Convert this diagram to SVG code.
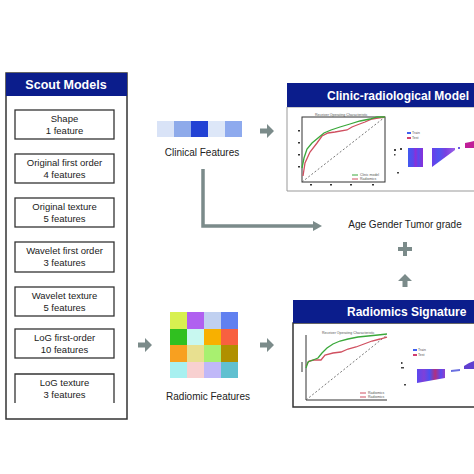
<svg xmlns="http://www.w3.org/2000/svg" width="474" height="474" viewBox="0 0 474 474">
<defs>
<style>
.hdr{fill:#0b1d8c}
.ht{font-family:"Liberation Sans",Arial,sans-serif;font-weight:bold;fill:#fff}
.bx{fill:#fff;stroke:#333;stroke-width:1.3}
.bt{font-family:"Liberation Sans",Arial,sans-serif;font-size:9.5px;fill:#222;text-anchor:middle}
.lbl{font-family:"Liberation Sans",Arial,sans-serif;font-size:10px;fill:#222;text-anchor:middle}
.arr{fill:#7b8b8a}
.ax{fill:none;stroke:#333;stroke-width:1}
.dg{fill:none;stroke:#555;stroke-width:0.8;stroke-dasharray:2,2}
.gr{fill:none;stroke:#3aa83a;stroke-width:1.3}
.rd{fill:none;stroke:#d05060;stroke-width:1.3}
.tiny{font-family:"Liberation Sans",Arial,sans-serif;font-size:3.5px;fill:#555}
</style>
<linearGradient id="stripe1" x1="0" x2="1" y1="0" y2="0">
<stop offset="0" stop-color="#3f5af0"/><stop offset="0.35" stop-color="#5a48ec"/><stop offset="0.5" stop-color="#8a30d8"/><stop offset="0.7" stop-color="#5a48ec"/><stop offset="1" stop-color="#8a30d8"/>
</linearGradient>
<linearGradient id="stripe2" x1="0" x2="1" y1="0" y2="0">
<stop offset="0" stop-color="#6a3ee8"/><stop offset="0.3" stop-color="#4f55f0"/><stop offset="0.6" stop-color="#7a40e0"/><stop offset="1" stop-color="#9a60e8"/>
</linearGradient>
<linearGradient id="stripe3" x1="0" x2="1" y1="0" y2="0">
<stop offset="0" stop-color="#5a48f0"/><stop offset="0.25" stop-color="#8040d8"/><stop offset="0.45" stop-color="#4a50f0"/><stop offset="0.65" stop-color="#b03080"/><stop offset="0.85" stop-color="#5a48f0"/><stop offset="1" stop-color="#9040c8"/>
</linearGradient>
</defs>
<rect width="474" height="474" fill="#fff"/>

<g id="scout-models">
<rect x="6" y="73" width="121" height="346" fill="#fff" stroke="#333" stroke-width="1.5"/>
<rect class="hdr" x="6" y="73" width="121" height="23"/>
<text class="ht" x="66" y="89" text-anchor="middle" style="font-size:12.5px">Scout Models</text>
</g>
<g id="shape"><rect class="bx" x="15" y="110" width="99" height="29"/><text class="bt" x="64.5" y="122">Shape</text><text class="bt" x="64.5" y="134">1 feature</text></g>
<g id="orig-first"><rect class="bx" x="15" y="154" width="99" height="29"/><text class="bt" x="64.5" y="166">Original first order</text><text class="bt" x="64.5" y="178">4 features</text></g>
<g id="orig-texture"><rect class="bx" x="15" y="198" width="99" height="29"/><text class="bt" x="64.5" y="210">Original texture</text><text class="bt" x="64.5" y="222">5 features</text></g>
<g id="wavelet-first"><rect class="bx" x="15" y="242" width="99" height="30"/><text class="bt" x="64.5" y="254">Wavelet first order</text><text class="bt" x="64.5" y="266">3 features</text></g>
<g id="wavelet-texture"><rect class="bx" x="15" y="287" width="99" height="29"/><text class="bt" x="64.5" y="299">Wavelet texture</text><text class="bt" x="64.5" y="311">5 features</text></g>
<g id="log-first"><rect class="bx" x="15" y="329" width="99" height="29"/><text class="bt" x="64.5" y="341">LoG first-order</text><text class="bt" x="64.5" y="353">10 features</text></g>
<g id="log-texture"><path d="M15,403 V374 H114 V403" fill="#fff" stroke="#333" stroke-width="1.3"/><text class="bt" x="64.5" y="386">LoG texture</text><text class="bt" x="64.5" y="398">3 features</text></g>

<g id="clinical-features">
<rect x="157" y="121" width="17" height="16" fill="#d9e3f7"/>
<rect x="174" y="121" width="17" height="16" fill="#8eaaea"/>
<rect x="191" y="121" width="17" height="16" fill="#2242d4"/>
<rect x="208" y="121" width="17" height="16" fill="#dde7f8"/>
<rect x="225" y="121" width="17" height="16" fill="#8eaaee"/>
<text class="lbl" x="202" y="156">Clinical Features</text>
</g>

<g id="radiomic-features">
<rect x="170" y="312" width="17" height="17" fill="#d8f050"/><rect x="187" y="312" width="17" height="17" fill="#b060f0"/><rect x="204" y="312" width="17" height="17" fill="#c0d0f0"/><rect x="221" y="312" width="17" height="17" fill="#6080f0"/>
<rect x="170" y="329" width="17" height="16" fill="#30c020"/><rect x="187" y="329" width="17" height="16" fill="#c8f8f0"/><rect x="204" y="329" width="17" height="16" fill="#f8b000"/><rect x="221" y="329" width="17" height="16" fill="#f86040"/>
<rect x="170" y="345" width="17" height="17" fill="#f8a020"/><rect x="187" y="345" width="17" height="17" fill="#e8e090"/><rect x="204" y="345" width="17" height="17" fill="#a8f070"/><rect x="221" y="345" width="17" height="17" fill="#b09000"/>
<rect x="170" y="362" width="17" height="16" fill="#a8f0f0"/><rect x="187" y="362" width="17" height="16" fill="#f8d0d0"/><rect x="204" y="362" width="17" height="16" fill="#c0b8f8"/><rect x="221" y="362" width="17" height="16" fill="#60c0d0"/>
<text class="lbl" x="208" y="400">Radiomic Features</text>
</g>

<g id="clinic-radiological-model">
<path d="M474,107 H287 V191 H474" fill="#fff" stroke="#999" stroke-width="1"/>
<rect class="hdr" x="287" y="83" width="187" height="24"/>
<text class="ht" x="327" y="100" style="font-size:12px">Clinic-radiological Model</text>
<text class="tiny" x="315" y="116">Receiver Operating Characteristic</text>
<rect class="ax" x="302" y="117" width="83" height="65"/>
<path class="dg" d="M302,182 L385,117"/>
<path class="rd" d="M303,176 L305,163 L310,152 L317,143 L322,136 L328,133 L335,132 L347,130 L352,127 L357,125 L365,122 L372,119 L378,118 L385,117"/>
<path class="gr" d="M302,168 L304,158 L307,149 L312,143 L318,138 L324,133 L331,130 L340,127 L350,124 L360,121 L370,119 L377,117 L385,117"/>
<path d="M352,175 h6" stroke="#3aa83a" stroke-width="1"/><path d="M352,179 h6" stroke="#d05060" stroke-width="1"/>
<text class="tiny" x="360" y="176">Clinic model</text><text class="tiny" x="360" y="180">Radiomics</text>
<g fill="#333"><rect x="298" y="130" width="2" height="1.5"/><rect x="298" y="142" width="2" height="1.5"/><rect x="298" y="154" width="2" height="1.5"/><rect x="298" y="166" width="2" height="1.5"/><rect x="310" y="184" width="2" height="1.5"/><rect x="330" y="184" width="2" height="1.5"/><rect x="350" y="184" width="2" height="1.5"/><rect x="372" y="184" width="2" height="1.5"/></g>
<path d="M407,133 h4" stroke="#4060f0" stroke-width="2"/><path d="M407,138 h4" stroke="#d04070" stroke-width="2"/>
<text class="tiny" x="412" y="134">Train</text><text class="tiny" x="412" y="139">Test</text>
<g fill="#444"><rect x="394" y="149" width="2" height="2"/><rect x="394" y="154" width="1.5" height="1.5"/><rect x="397" y="172" width="2" height="1.5"/><rect x="400" y="148" width="2" height="2"/></g>
<rect x="408" y="148" width="15" height="19" fill="url(#stripe1)"/>
<polygon points="432,148 455,148 455,150 432,167" fill="url(#stripe2)"/>
<rect x="458" y="147" width="2" height="2" fill="#6a5ae0"/>
<polygon points="465,148 465,143 470,142 474,141 474,148" fill="#c01e98"/>
</g>

<g id="covariates">
<text class="lbl" x="405" y="228">Age  Gender  Tumor grade</text>
<rect x="398" y="247" width="14" height="4" fill="#7b8b8a"/>
<rect x="403" y="242" width="4" height="14" fill="#7b8b8a"/>
</g>

<g id="radiomics-signature">
<path d="M474,323 H293 V407 H474" fill="#fff" stroke="#333" stroke-width="1.5"/>
<rect class="hdr" x="293" y="300" width="181" height="23"/>
<text class="ht" x="347" y="316" style="font-size:12px">Radiomics Signature</text>
<text class="tiny" x="322" y="334">Receiver Operating Characteristic</text>
<path class="ax" d="M306,335 V400 H387"/>
<path class="dg" d="M306,400 L387,335"/>
<path class="rd" d="M306,366 L309,361 L314,360 L321,360 L325,355 L333,353 L341,352 L348,349 L356,347 L364,344 L372,341 L380,339 L387,337"/>
<path class="gr" d="M306,368 L308,362 L313,360 L318,358 L322,353 L327,348 L333,344 L340,341 L348,339 L358,337 L368,336 L378,335 L387,334"/>
<path d="M302,362 v10" stroke="#999" stroke-width="2"/>
<path d="M360,393 h6" stroke="#d05060" stroke-width="1"/><path d="M360,397 h6" stroke="#d05060" stroke-width="1"/>
<text class="tiny" x="368" y="394">Radiomics</text><text class="tiny" x="368" y="398">Radiomics</text>
<path d="M413,350 h4" stroke="#4060f0" stroke-width="2"/><path d="M413,355 h4" stroke="#d04070" stroke-width="2"/>
<text class="tiny" x="418" y="351">Train</text><text class="tiny" x="418" y="356">Test</text>
<g fill="#444"><rect x="401" y="362" width="1.5" height="2"/><rect x="401" y="367" width="3" height="1.5"/><rect x="404" y="384" width="2" height="1.5"/></g>
<polygon points="417,369 445,369 445,378 417,383" fill="url(#stripe3)"/>
<polygon points="451,370 460,369 460,371 451,372" fill="#6a70e0"/>
<polygon points="464,369 464,366 469,363 474,361 474,369" fill="#6040d0"/>
</g>

<g id="connectors">
<path d="M260,128.5 h7 v-4.5 l7,7 l-7,7 v-4.5 h-7 z" class="arr"/>
<path d="M138,342.5 h7 v-4.5 l7,7 l-7,7 v-4.5 h-7 z" class="arr"/>
<path d="M260,342.5 h7 v-4.5 l7,7 l-7,7 v-4.5 h-7 z" class="arr"/>
<path d="M203,169 V226 H314" fill="none" stroke="#7b8b8a" stroke-width="3.5"/>
<path d="M313,221 L322,226 L313,231 z" class="arr"/>
<path d="M402.5,287 v-6 h-4.5 l7,-7 l7,7 h-4.5 v6 z" class="arr"/>
</g>
</svg>
